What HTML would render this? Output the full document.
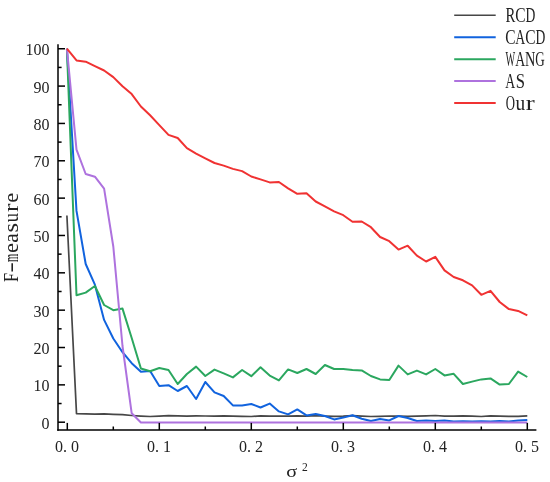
<!DOCTYPE html>
<html lang="en">
<head>
<meta charset="utf-8">
<title>F-measure vs noise variance</title>
<style>
html,body{margin:0;padding:0;background:#fff;}
body{width:550px;height:482px;overflow:hidden;}
svg{display:block;}
text{font-family:"Liberation Serif","Noto Serif CJK SC",serif;fill:#222;}
.tick{font-size:16px;}
.leg{font-size:20px;}
</style>
</head>
<body>
<svg width="550" height="482" viewBox="0 0 550 482">
<rect x="0" y="0" width="550" height="482" fill="#ffffff"/>

<g>
<polyline points="66.9,215.5 76.5,413.6 85.7,413.9 94.9,414.2 104.1,413.9 113.3,414.3 122.5,414.7 131.7,415.5 140.9,416.1 150.1,416.5 159.3,416.1 168.5,415.7 177.7,415.9 186.9,416.2 196.1,415.8 205.3,416.0 214.5,416.2 223.7,415.9 232.9,416.1 242.1,416.3 251.3,416.5 260.5,415.9 269.7,416.1 278.9,416.0 288.1,416.2 297.3,415.9 306.5,416.1 315.7,415.7 324.9,416.1 334.1,416.3 343.3,416.1 352.5,415.6 361.7,416.1 370.9,416.5 380.1,416.3 389.3,416.0 398.5,416.2 407.7,416.4 416.9,416.1 426.1,415.9 435.3,415.5 444.5,416.1 453.7,416.2 462.9,415.9 472.1,416.1 481.3,416.5 490.5,415.8 499.7,416.2 508.9,416.4 518.1,416.3 527.3,415.9" fill="none" stroke="#474747" stroke-width="1.7" stroke-linejoin="round" stroke-linecap="butt"/>
<polyline points="66.9,48.7 76.5,210.9 85.7,264.0 94.9,284.7 104.1,319.9 113.3,338.5 122.5,352.2 131.7,363.2 140.9,371.7 150.1,371.0 159.3,386.0 168.5,385.2 177.7,391.0 186.9,386.0 196.1,399.0 205.3,382.0 214.5,392.4 223.7,396.0 232.9,405.4 242.1,405.4 251.3,404.0 260.5,407.5 269.7,403.6 278.9,411.4 288.1,414.4 297.3,409.4 306.5,415.4 315.7,414.0 324.9,416.0 334.1,419.4 343.3,417.6 352.5,415.3 361.7,418.8 370.9,421.0 380.1,419.0 389.3,420.4 398.5,416.0 407.7,418.0 416.9,421.0 426.1,420.4 435.3,421.0 444.5,420.4 453.7,421.6 462.9,421.2 472.1,421.6 481.3,421.2 490.5,421.6 499.7,421.0 508.9,421.4 518.1,420.6 527.3,420.0" fill="none" stroke="#1163DE" stroke-width="2.0" stroke-linejoin="round" stroke-linecap="butt"/>
<polyline points="66.9,48.7 76.5,295.3 85.7,292.6 94.9,286.0 104.1,305.0 113.3,310.2 122.5,308.6 131.7,338.0 140.9,368.5 150.1,371.2 159.3,368.0 168.5,370.0 177.7,384.0 186.9,374.0 196.1,366.6 205.3,376.0 214.5,369.6 223.7,373.4 232.9,377.4 242.1,370.0 251.3,376.2 260.5,367.3 269.7,375.6 278.9,380.4 288.1,369.4 297.3,373.0 306.5,369.0 315.7,374.0 324.9,365.0 334.1,369.0 343.3,369.0 352.5,370.0 361.7,370.4 370.9,376.0 380.1,379.4 389.3,380.0 398.5,365.6 407.7,374.4 416.9,370.6 426.1,374.4 435.3,369.0 444.5,375.4 453.7,373.8 462.9,384.0 472.1,381.6 481.3,379.4 490.5,378.4 499.7,384.6 508.9,384.0 518.1,371.6 527.3,377.0" fill="none" stroke="#2BA75F" stroke-width="2.0" stroke-linejoin="round" stroke-linecap="butt"/>
<polyline points="66.9,48.7 76.5,149.7 85.7,174.0 94.9,176.7 104.1,188.7 113.3,246.5 122.5,346.0 131.7,413.3 140.9,422.5 150.1,422.5 159.3,422.5 168.5,422.5 177.7,422.5 186.9,422.5 196.1,422.5 205.3,422.5 214.5,422.5 223.7,422.5 232.9,422.5 242.1,422.5 251.3,422.5 260.5,422.5 269.7,422.5 278.9,422.5 288.1,422.5 297.3,422.5 306.5,422.5 315.7,422.5 324.9,422.5 334.1,422.5 343.3,422.5 352.5,422.5 361.7,422.5 370.9,422.5 380.1,422.5 389.3,422.5 398.5,422.5 407.7,422.5 416.9,422.5 426.1,422.5 435.3,422.5 444.5,422.5 453.7,422.5 462.9,422.5 472.1,422.5 481.3,422.5 490.5,422.5 499.7,422.5 508.9,422.5 518.1,422.5 527.3,422.5" fill="none" stroke="#AE72DE" stroke-width="2.0" stroke-linejoin="round" stroke-linecap="butt"/>
<polyline points="66.9,48.7 76.5,60.4 85.7,61.7 94.9,66.2 104.1,70.5 113.3,77.1 122.5,86.3 131.7,94.1 140.9,106.5 150.1,115.3 159.3,125.1 168.5,134.9 177.7,138.0 186.9,148.2 196.1,153.6 205.3,158.4 214.5,163.0 223.7,165.6 232.9,168.9 242.1,171.1 251.3,176.5 260.5,179.4 269.7,182.4 278.9,182.0 288.1,188.3 297.3,193.8 306.5,193.2 315.7,201.5 324.9,206.3 334.1,211.3 343.3,215.2 352.5,221.7 361.7,221.5 370.9,227.2 380.1,237.0 389.3,241.2 398.5,249.6 407.7,245.7 416.9,255.6 426.1,261.5 435.3,256.9 444.5,270.4 453.7,277.0 462.9,280.3 472.1,285.4 481.3,294.8 490.5,290.8 499.7,302.0 508.9,309.1 518.1,310.9 527.3,315.4" fill="none" stroke="#F03232" stroke-width="2.0" stroke-linejoin="round" stroke-linecap="butt"/>
</g>
<g stroke="#000" stroke-width="1.5" fill="none" stroke-linecap="butt">
<line x1="58.0" y1="44.3" x2="58.0" y2="430.65"/>
<line x1="57.25" y1="429.9" x2="536.4" y2="429.9"/>
<line x1="58.0" y1="422.20" x2="65.0" y2="422.20"/>
<line x1="58.0" y1="403.53" x2="61.6" y2="403.53"/>
<line x1="58.0" y1="384.86" x2="65.0" y2="384.86"/>
<line x1="58.0" y1="366.18" x2="61.6" y2="366.18"/>
<line x1="58.0" y1="347.51" x2="65.0" y2="347.51"/>
<line x1="58.0" y1="328.84" x2="61.6" y2="328.84"/>
<line x1="58.0" y1="310.16" x2="65.0" y2="310.16"/>
<line x1="58.0" y1="291.49" x2="61.6" y2="291.49"/>
<line x1="58.0" y1="272.82" x2="65.0" y2="272.82"/>
<line x1="58.0" y1="254.15" x2="61.6" y2="254.15"/>
<line x1="58.0" y1="235.47" x2="65.0" y2="235.47"/>
<line x1="58.0" y1="216.80" x2="61.6" y2="216.80"/>
<line x1="58.0" y1="198.13" x2="65.0" y2="198.13"/>
<line x1="58.0" y1="179.46" x2="61.6" y2="179.46"/>
<line x1="58.0" y1="160.78" x2="65.0" y2="160.78"/>
<line x1="58.0" y1="142.11" x2="61.6" y2="142.11"/>
<line x1="58.0" y1="123.44" x2="65.0" y2="123.44"/>
<line x1="58.0" y1="104.77" x2="61.6" y2="104.77"/>
<line x1="58.0" y1="86.09" x2="65.0" y2="86.09"/>
<line x1="58.0" y1="67.42" x2="61.6" y2="67.42"/>
<line x1="58.0" y1="48.75" x2="65.0" y2="48.75"/>
<line x1="67.30" y1="429.9" x2="67.30" y2="422.9"/>
<line x1="113.30" y1="429.9" x2="113.30" y2="426.5"/>
<line x1="159.30" y1="429.9" x2="159.30" y2="422.9"/>
<line x1="205.30" y1="429.9" x2="205.30" y2="426.5"/>
<line x1="251.30" y1="429.9" x2="251.30" y2="422.9"/>
<line x1="297.30" y1="429.9" x2="297.30" y2="426.5"/>
<line x1="343.30" y1="429.9" x2="343.30" y2="422.9"/>
<line x1="389.30" y1="429.9" x2="389.30" y2="426.5"/>
<line x1="435.30" y1="429.9" x2="435.30" y2="422.9"/>
<line x1="481.30" y1="429.9" x2="481.30" y2="426.5"/>
<line x1="527.30" y1="429.9" x2="527.30" y2="422.9"/>
</g>
<g class="tick" text-anchor="end">
<text x="49.4" y="428.7">0</text>
<text x="49.4" y="391.4">10</text>
<text x="49.4" y="354.0">20</text>
<text x="49.4" y="316.7">30</text>
<text x="49.4" y="279.3">40</text>
<text x="49.4" y="242.0">50</text>
<text x="49.4" y="204.6">60</text>
<text x="49.4" y="167.3">70</text>
<text x="49.4" y="129.9">80</text>
<text x="49.4" y="92.6">90</text>
<text x="49.4" y="55.2">100</text>
</g>
<g class="tick">
<text y="451.6" x="55.0 63.0 71.0">0.0</text>
<text y="451.6" x="147.0 155.0 163.0">0.1</text>
<text y="451.6" x="239.0 247.0 255.0">0.2</text>
<text y="451.6" x="331.0 339.0 347.0">0.3</text>
<text y="451.6" x="423.0 431.0 439.0">0.4</text>
<text y="451.6" x="515.0 523.0 531.0">0.5</text>
</g>
<line x1="454.2" y1="15.25" x2="495.7" y2="15.25" stroke="#474747" stroke-width="1.5"/>
<text class="leg" y="21.9"><tspan x="505.47" textLength="9.84" lengthAdjust="spacingAndGlyphs">R</tspan><tspan x="515.37" textLength="10.28" lengthAdjust="spacingAndGlyphs">C</tspan><tspan x="525.40" textLength="9.84" lengthAdjust="spacingAndGlyphs">D</tspan></text>
<line x1="454.2" y1="37.20" x2="495.7" y2="37.20" stroke="#1163DE" stroke-width="2.0"/>
<text class="leg" y="43.8"><tspan x="505.37" textLength="10.28" lengthAdjust="spacingAndGlyphs">C</tspan><tspan x="515.36" textLength="9.93" lengthAdjust="spacingAndGlyphs">A</tspan><tspan x="525.37" textLength="10.28" lengthAdjust="spacingAndGlyphs">C</tspan><tspan x="535.40" textLength="9.84" lengthAdjust="spacingAndGlyphs">D</tspan></text>
<line x1="454.2" y1="59.15" x2="495.7" y2="59.15" stroke="#2BA75F" stroke-width="2.0"/>
<text class="leg" y="65.8"><tspan x="505.59" textLength="9.63" lengthAdjust="spacingAndGlyphs">W</tspan><tspan x="515.36" textLength="9.93" lengthAdjust="spacingAndGlyphs">A</tspan><tspan x="524.98" textLength="10.35" lengthAdjust="spacingAndGlyphs">N</tspan><tspan x="535.26" textLength="9.44" lengthAdjust="spacingAndGlyphs">G</tspan></text>
<line x1="454.2" y1="81.10" x2="495.7" y2="81.10" stroke="#AE72DE" stroke-width="2.0"/>
<text class="leg" y="87.7"><tspan x="505.36" textLength="9.93" lengthAdjust="spacingAndGlyphs">A</tspan><tspan x="515.69" textLength="9.24" lengthAdjust="spacingAndGlyphs">S</tspan></text>
<line x1="454.2" y1="103.05" x2="495.7" y2="103.05" stroke="#F03232" stroke-width="2.0"/>
<text class="leg" y="109.6"><tspan x="505.67" textLength="9.25" lengthAdjust="spacingAndGlyphs">O</tspan><tspan x="515.55" textLength="9.68" lengthAdjust="spacingAndGlyphs">u</tspan><tspan x="525.76" textLength="8.98" lengthAdjust="spacingAndGlyphs">r</tspan></text>
<text class="leg" transform="translate(18.3,0) rotate(-90)" y="0"><tspan x="-281.98" textLength="9.17" lengthAdjust="spacingAndGlyphs">F</tspan><tspan x="-272.68" dy="-1.6" textLength="10.63" lengthAdjust="spacingAndGlyphs">-</tspan><tspan x="-262.12" dy="1.6" textLength="8.19" lengthAdjust="spacingAndGlyphs">m</tspan><tspan x="-253.07" textLength="9.96" lengthAdjust="spacingAndGlyphs">e</tspan><tspan x="-242.85" textLength="9.55" lengthAdjust="spacingAndGlyphs">a</tspan><tspan x="-232.51" textLength="9.60" lengthAdjust="spacingAndGlyphs">s</tspan><tspan x="-222.14" textLength="9.26" lengthAdjust="spacingAndGlyphs">u</tspan><tspan x="-212.11" textLength="8.43" lengthAdjust="spacingAndGlyphs">r</tspan><tspan x="-202.87" textLength="9.96" lengthAdjust="spacingAndGlyphs">e</tspan></text>
<text y="477" font-size="17.4"><tspan x="286.2" textLength="10.9" lengthAdjust="spacingAndGlyphs">σ</tspan><tspan x="301.9" dy="-6" font-size="11.5">2</tspan></text>
</svg>
</body>
</html>
